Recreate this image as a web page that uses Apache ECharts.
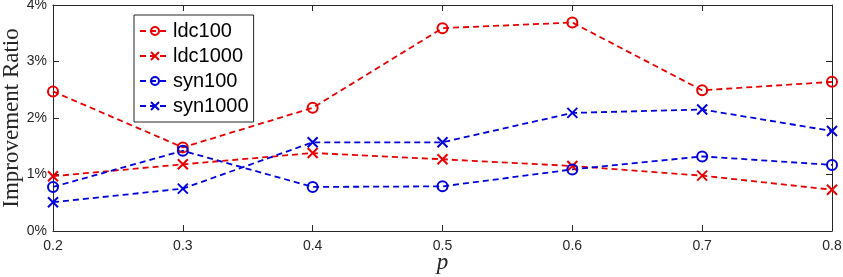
<!DOCTYPE html>
<html><head><meta charset="utf-8">
<script src="https://cdn.jsdelivr.net/npm/echarts@6/dist/echarts.min.js"></script>
<style>html,body{margin:0;padding:0;background:#fff}#c{width:843px;height:277px}</style>
</head><body><div id="c"></div>
<script>
const categories = ['0.2','0.3','0.4','0.5','0.6','0.7','0.8'];
const yTicks = [0,1,2,3,4];
const ldc100  = [2.47, 1.48, 2.18, 3.59, 3.69, 2.49, 2.64];
const ldc1000 = [0.97, 1.18, 1.38, 1.27, 1.15, 0.98, 0.73];
const syn100  = [0.78, 1.42, 0.78, 0.79, 1.09, 1.32, 1.17];
const syn1000 = [0.51, 0.75, 1.57, 1.57, 2.09, 2.15, 1.77];

const RED = '#e80000', BLUE = '#0000dc';
const XPATH = 'path://M0,0L10,10M10,0L0,10';
function mk(name, data, color, sym) {
  return {
    name, type: 'line', data, symbol: sym, symbolSize: 10,
    lineStyle: {color, width: 1.8, type: [6, 4]},
    itemStyle: {color: 'rgba(0,0,0,0)', borderColor: color, borderWidth: 2},
    emphasis: {disabled: true}, animation: false, z: 3
  };
}
const chart = echarts.init(document.getElementById('c'), null, {renderer: 'canvas'});
const axisCommon = {
  axisLine: {show: true, onZero: false, lineStyle: {color: '#262626', width: 1}},
  axisTick: {show: true, inside: true, length: 6, lineStyle: {color: '#262626'}},
  splitLine: {show: false}
};
chart.setOption({
  animation: false,
  grid: {left: 53, right: 11, top: 5, bottom: 46, outerBoundsMode: 'none', containLabel: false},
  legend: {
    left: 134, top: 15, orient: 'vertical', itemGap: 5, itemWidth: 30, itemHeight: 10,
    padding: [6, 5, 6, 5], borderColor: '#262626', borderWidth: 1, backgroundColor: '#fff',
    textStyle: {fontFamily: 'Liberation Sans', fontSize: 20, color: '#000', padding: [0,0,0,-2]},
    data: ['ldc100','ldc1000','syn100','syn1000']
  },
  xAxis: [
    Object.assign({type: 'category', data: categories, boundaryGap: false, position: 'bottom',
      axisLabel: {fontFamily: 'Liberation Sans', fontSize: 14, color: '#262626', margin: 8},
      name: 'p', nameLocation: 'middle', nameGap: 20, nameMoveOverlap: false,
      nameTextStyle: {fontFamily: 'Liberation Serif', fontStyle: 'italic', fontSize: 23, color: '#262626'}
    }, axisCommon),
    Object.assign({type: 'category', data: categories, boundaryGap: false, position: 'top',
      axisLabel: {show: false}}, axisCommon)
  ],
  yAxis: [
    Object.assign({type: 'value', min: 0, max: 4, interval: 1, position: 'left',
      axisLabel: {fontFamily: 'Liberation Sans', fontSize: 14, color: '#262626', margin: 6,
        formatter: v => yTicks.includes(v) ? v + '%' : ''},
      name: 'Improvement Ratio', nameLocation: 'middle', nameGap: 30, nameMoveOverlap: false,
      nameTextStyle: {fontFamily: 'Liberation Serif', fontSize: 23, color: '#262626'}
    }, axisCommon),
    Object.assign({type: 'value', min: 0, max: 4, interval: 1, position: 'right',
      axisLabel: {show: false}}, axisCommon)
  ],
  series: [
    mk('ldc100', ldc100, RED, 'circle'),
    mk('ldc1000', ldc1000, RED, XPATH),
    mk('syn100', syn100, BLUE, 'circle'),
    mk('syn1000', syn1000, BLUE, XPATH)
  ]
});
</script></body></html>
